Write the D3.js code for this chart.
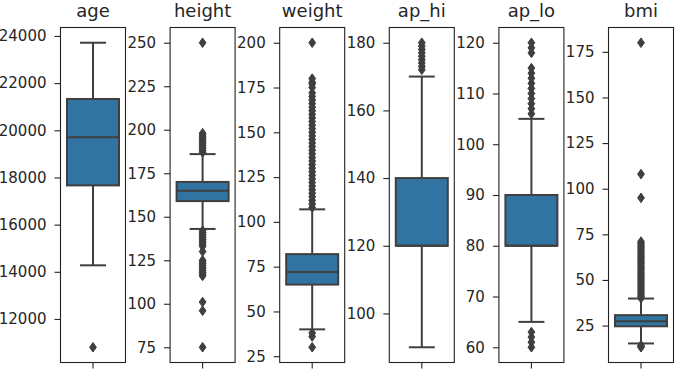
<!DOCTYPE html>
<html>
<head>
<meta charset="utf-8">
<script src="https://cdn.jsdelivr.net/npm/d3@7"></script>
<style>
  body { margin: 0; background: #fff; }
  text { font-family: "DejaVu Sans", sans-serif; fill: #262626; }
</style>
</head>
<body>
<script>
// box statistics, one entry per column
var variables = ['age', 'height', 'weight', 'ap_hi', 'ap_lo', 'bmi'];
var q1 = [17664, 159, 65, 120, 80, 24.6];
var median = [19703, 165, 72, 120, 80, 27.3];
var q3 = [21327, 170, 82, 140, 90, 30.7];
var whiskerLow = [14275, 143, 40, 90, 65, 15.2];
var whiskerHigh = [23713, 186, 107, 170, 105, 39.8];

var outliers = [
    [10800],
    [187, 188, 189, 190, 191, 192, 193, 194, 195, 196, 197, 198, 250,
     142, 141, 140, 139, 138, 137, 136, 135, 134, 133, 130,
     125, 124, 123, 122, 121, 120, 119, 118, 117, 116, 101, 96, 75],
    [108, 110, 112, 114, 116, 118, 120, 122, 124, 126, 128, 130, 132, 134, 136, 138, 140,
     142, 144, 146, 148, 150, 152, 154, 156, 158, 160, 162, 164, 166, 168, 170,
     172, 175, 177, 178, 180, 200, 38, 36, 30],
    [172, 173, 174, 175, 176, 177, 178, 179, 180],
    [106, 107, 108, 109, 110, 111, 112, 113, 114, 115, 118, 119, 120, 63, 62, 61, 60],
    [40, 41, 42, 43, 44, 45, 46, 47, 48, 49, 50, 51, 52, 53, 54, 55, 56, 57, 58, 59, 60,
     61, 62, 63, 64, 65, 66, 67, 68, 69, 70, 71, 95, 108, 180, 14.2, 13.6, 13.1]
];

var tickValues = [
    [12000, 14000, 16000, 18000, 20000, 22000, 24000],
    [75, 100, 125, 150, 175, 200, 225, 250],
    [25, 50, 75, 100, 125, 150, 175, 200],
    [100, 120, 140, 160, 180],
    [60, 70, 80, 90, 100, 110, 120],
    [25, 50, 75, 100, 125, 150, 175]
];

var width = 685, height = 374;
var top_y = 27.5, bottom_y = 362.5;
var boxColor = '#3274a1';
var lineColor = '#3f3f3f';

var svg = d3.select('body').append('svg')
    .attr('width', width)
    .attr('height', height);

var xpanel = d3.scaleBand()
    .domain(variables)
    .range([60.5, 673.5])
    .paddingInner(0.407)
    .paddingOuter(0);

var bw = xpanel.bandwidth();

variables.forEach(function(v, i) {
    var g = svg.append('g')
        .attr('transform', 'translate(' + xpanel(v) + ',0)');

    var all = [whiskerLow[i], whiskerHigh[i]].concat(outliers[i]);
    var ext = d3.extent(all);
    var pad = (ext[1] - ext[0]) * 0.05;

    var y = d3.scaleLinear()
        .domain([ext[0] - pad, ext[1] + pad])
        .range([bottom_y, top_y]);

    // inner x position: single category, like seaborn's [-0.5, 0.5]
    var x = d3.scaleLinear().domain([-0.5, 0.5]).range([0, bw]);
    var cx = x(0);
    var half = (x(0.4) - x(-0.4)) / 2;
    var cap = half / 2;

    var yaxis = d3.axisLeft(y)
        .tickValues(tickValues[i])
        .tickFormat(d3.format('d'))
        .tickSize(6)
        .tickSizeOuter(0)
        .tickPadding(8);

    var ax = g.append('g').call(yaxis);
    ax.select('.domain').remove();
    ax.selectAll('line').attr('stroke', '#222').attr('stroke-width', 1.1);
    ax.selectAll('text')
        .style('font-size', '15px')
        .style('font-family', '"DejaVu Sans", sans-serif')
        .attr('fill', '#262626');

    // empty x tick
    g.append('line')
        .attr('x1', cx).attr('x2', cx)
        .attr('y1', bottom_y).attr('y2', bottom_y + 6)
        .attr('stroke', '#222')
        .attr('stroke-width', 1.1);

    // whiskers
    g.append('line')
        .attr('x1', cx).attr('x2', cx)
        .attr('y1', y(whiskerLow[i])).attr('y2', y(q1[i]))
        .attr('stroke', lineColor).attr('stroke-width', 2);
    g.append('line')
        .attr('x1', cx).attr('x2', cx)
        .attr('y1', y(q3[i])).attr('y2', y(whiskerHigh[i]))
        .attr('stroke', lineColor).attr('stroke-width', 2);

    // caps
    [whiskerLow[i], whiskerHigh[i]].forEach(function(w) {
        g.append('line')
            .attr('x1', cx - cap).attr('x2', cx + cap)
            .attr('y1', y(w)).attr('y2', y(w))
            .attr('stroke', lineColor).attr('stroke-width', 2);
    });

    // box
    g.append('rect')
        .attr('x', cx - half)
        .attr('y', y(q3[i]))
        .attr('width', half * 2)
        .attr('height', y(q1[i]) - y(q3[i]))
        .attr('fill', boxColor)
        .attr('stroke', lineColor)
        .attr('stroke-width', 2);

    // median
    g.append('line')
        .attr('x1', cx - half).attr('x2', cx + half)
        .attr('y1', y(median[i])).attr('y2', y(median[i]))
        .attr('stroke', lineColor).attr('stroke-width', 2);

    // fliers, thin diamonds
    g.selectAll('.flier')
        .data(outliers[i])
        .enter()
        .append('path')
        .attr('class', 'flier')
        .attr('d', 'M0,-4.8L3.4,0L0,4.8L-3.4,0Z')
        .attr('transform', function(d) { return 'translate(' + cx + ',' + y(d) + ')'; })
        .attr('fill', lineColor)
        .attr('stroke', lineColor)
        .attr('stroke-width', 1);

    // frame
    g.append('rect')
        .attr('x', 0).attr('y', top_y)
        .attr('width', bw).attr('height', bottom_y - top_y)
        .attr('fill', 'none')
        .attr('stroke', '#222')
        .attr('stroke-width', 1.1);

    g.append('text')
        .attr('x', cx)
        .attr('y', 17)
        .attr('text-anchor', 'middle')
        .style('font-size', '18px')
        .text(v);
});
</script>
</body>
</html>
